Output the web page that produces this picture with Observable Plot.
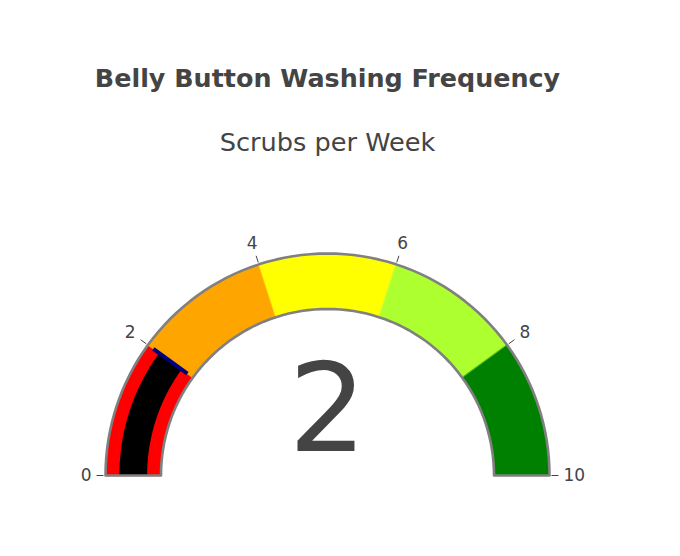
<!DOCTYPE html>
<html><head><meta charset="utf-8">
<script src="https://cdn.jsdelivr.net/npm/d3@7"></script>
<script src="https://cdn.jsdelivr.net/npm/@observablehq/plot@0.6"></script>
<style>
body{margin:0;background:#fff;font-family:"DejaVu Sans",Verdana,sans-serif;}
#wrap{position:relative;width:680px;height:556px;overflow:hidden}
.t{position:absolute;left:0;width:655px;text-align:center;color:#444;line-height:1;white-space:nowrap}
#chart{position:absolute;left:0;top:180px}
</style></head><body>
<div id="wrap">
  <div class="t" style="top:66px;font-size:25.4px;font-weight:bold">Belly Button Washing Frequency</div>
  <div class="t" style="top:130px;font-size:25.6px">Scrubs per Week</div>
  <div id="chart"></div>
</div>
<script>
// ---- data ----
const gaugeRange = [0, 10];
const indicatorValue = 2;
const thresholdValue = 2;
const stepStarts = [0, 2, 4, 6, 8];
const stepEnds = [2, 4, 6, 8, 10];
const stepColors = ["red", "orange", "yellow", "greenyellow", "green"];
const tickValues = [0, 2, 4, 6, 8, 10];
const tickLabels = ["0", "2", "4", "6", "8", "10"];

// ---- geometry ----
const W = 680, H = 376, R = 222, CX = 327, CY = 295;
const inner = 0.75, barIn = 0.8125, barOut = 0.9375, thrIn = 0.78, thrOut = 0.97;
const ang = d3.scaleLinear().domain(gaugeRange).range([Math.PI, 0]);

function sector(v0, v1, r0, r1, key, fill) {
  const n = 80, pts = [];
  for (let k = 0; k <= n; k++) {
    const a = ang(v0 + (v1 - v0) * k / n);
    pts.push({x: r1 * Math.cos(a), y: r1 * Math.sin(a), key, fill});
  }
  for (let k = n; k >= 0; k--) {
    const a = ang(v0 + (v1 - v0) * k / n);
    pts.push({x: r0 * Math.cos(a), y: r0 * Math.sin(a), key, fill});
  }
  return pts;
}

const stepPts = stepStarts.flatMap((s, i) => sector(s, stepEnds[i], inner, 1, i, stepColors[i]));
const outlinePts = sector(gaugeRange[0], gaugeRange[1], inner, 1, "o", "none");
const barPts = sector(gaugeRange[0], indicatorValue, barIn, barOut, "b", "black");

const FS = 17;
const thr = [{a: ang(thresholdValue)}];
const ticks = tickValues.map((v, i) => {
  const a = ang(v);
  const w = tickLabels[i].length * 0.636 * FS, h = 0.729 * FS;
  const off = 1 + (14 + Math.abs(Math.cos(a)) * w / 2 + Math.abs(Math.sin(a)) * h / 2) / R;
  return {a, label: tickLabels[i], off};
});

const chart = Plot.plot({
  width: W, height: H, margin: 0,
  style: {fontFamily: "'DejaVu Sans', Verdana, sans-serif", background: "white"},
  x: {domain: [-CX / R, (W - CX) / R], range: [0, W], axis: null},
  y: {domain: [-(H - CY) / R, CY / R], range: [H, 0], axis: null},
  color: {type: "identity"},
  marks: [
    Plot.line(stepPts, {x: "x", y: "y", z: "key", fill: "fill", stroke: "fill", strokeWidth: 0.5, curve: "linear-closed"}),
    Plot.line(barPts, {x: "x", y: "y", z: "key", fill: "black", stroke: "none", curve: "linear-closed"}),
    Plot.line(outlinePts, {x: "x", y: "y", z: "key", fill: "none", stroke: "#808080", strokeWidth: 2.6, curve: "linear-closed"}),
    Plot.link(thr, {
      x1: d => thrIn * Math.cos(d.a), y1: d => thrIn * Math.sin(d.a),
      x2: d => thrOut * Math.cos(d.a), y2: d => thrOut * Math.sin(d.a),
      stroke: "navy", strokeWidth: 4
    }),
    Plot.link(ticks, {
      x1: d => (1 + 2 / R) * Math.cos(d.a), y1: d => (1 + 2 / R) * Math.sin(d.a),
      x2: d => (1 + 9 / R) * Math.cos(d.a), y2: d => (1 + 9 / R) * Math.sin(d.a),
      stroke: "#444", strokeWidth: 1
    }),
    Plot.text(ticks, {
      x: d => d.off * Math.cos(d.a), y: d => d.off * Math.sin(d.a), text: "label",
      fill: "#444", fontSize: FS, textAnchor: "middle", lineAnchor: "middle"
    }),
    Plot.text([indicatorValue], {
      x: () => 0, y: () => 25 / R, text: d => String(d),
      fill: "#444", fontSize: 123, textAnchor: "middle", lineAnchor: "bottom"
    })
  ]
});
document.getElementById("chart").appendChild(chart);
</script>
</body></html>
